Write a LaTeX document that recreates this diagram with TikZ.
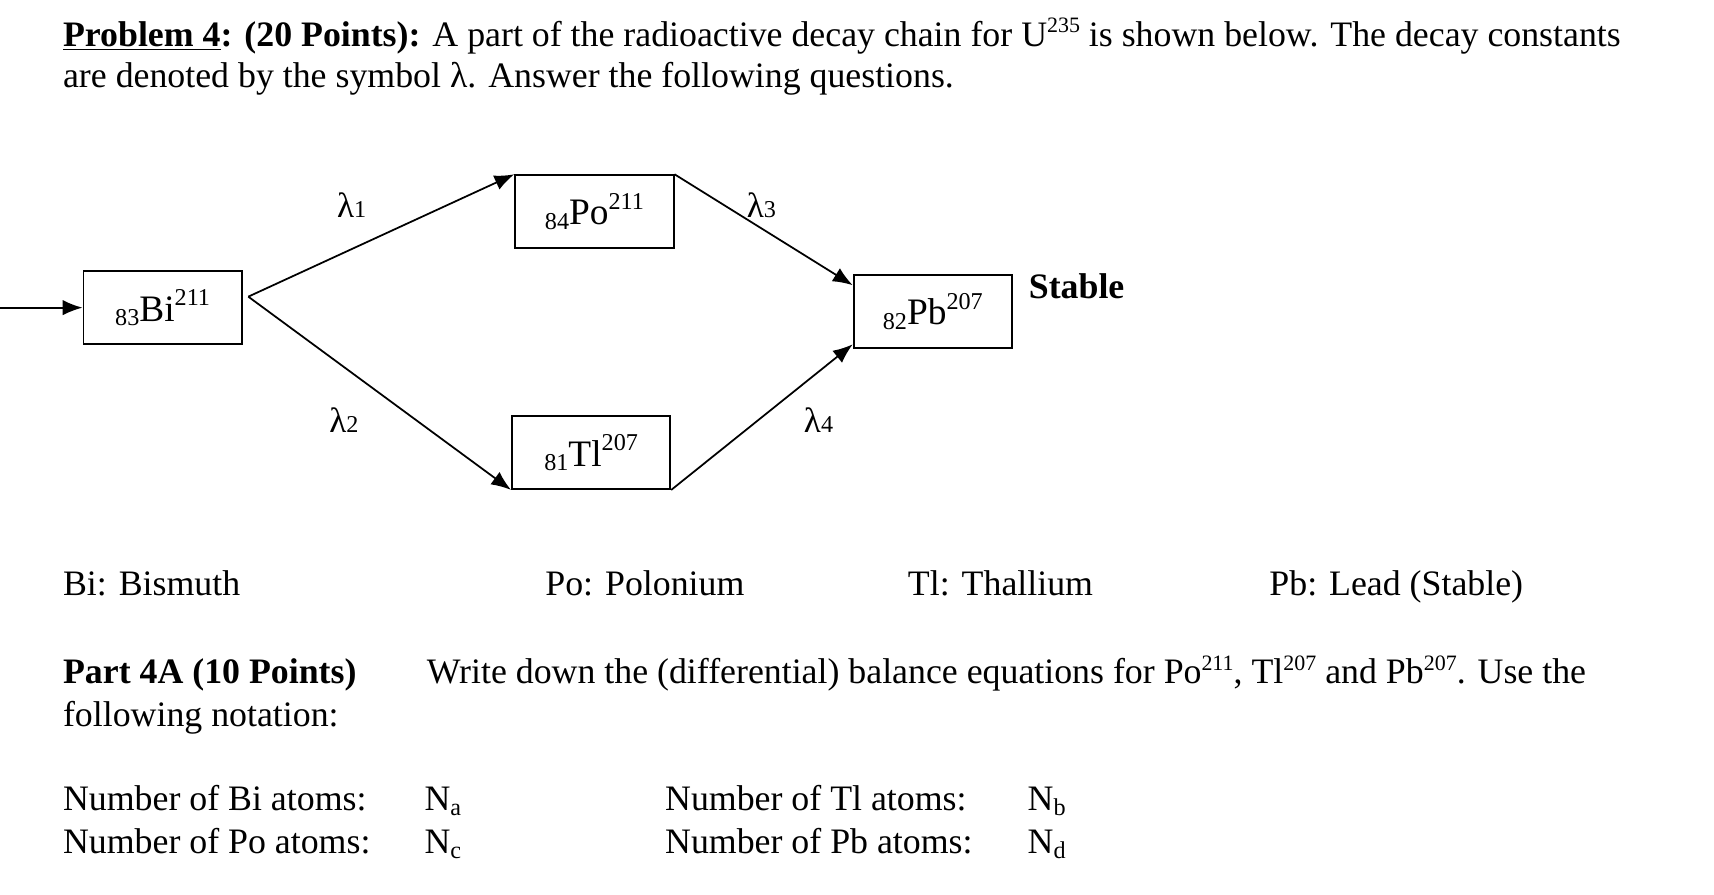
\documentclass[tikz,border=0pt]{standalone}
\usepackage{fontspec}
\usetikzlibrary{arrows.meta}
\setmainfont{Liberation Serif}
\newcommand{\sm}[1]{{\fontsize{11}{11}\selectfont #1}}
\newcommand{\up}[1]{\raisebox{7pt}{\fontsize{11}{11}\selectfont #1}}
\newcommand{\tup}[1]{\raisebox{6pt}{\fontsize{10}{10}\selectfont #1}}
\newcommand{\dn}[1]{\raisebox{-2pt}{\fontsize{11}{11}\selectfont #1}}
\begin{document}
\begin{tikzpicture}[x=0.5pt,y=-0.5pt,
  txt/.style={anchor=base west,inner sep=0pt,font=\fontsize{16.3}{19}\selectfont},
  box/.style={draw,line width=0.9pt,minimum width=72pt,minimum height=33pt,inner sep=0pt,font=\fontsize{17}{19}\selectfont},
  lam/.style={inner sep=0pt,font=\fontsize{16}{19}\selectfont},
  arr/.style={-{Latex[length=9pt,width=7pt]},line width=0.8pt}]
\useasboundingbox (0,0) rectangle (1560,814);
\node[txt] (t1) at (57,42) {\underline{\textbf{Problem 4}}\textbf{: (20 Points):} A part of the radioactive decay chain for U\tup{235} is shown below. The decay constants};
\node[txt] (t2) at (57,80) {are denoted by the symbol λ. Answer the following questions.};
\node[box] (bi) at (148,280) {\dn{83}Bi\up{211}};
\node[box] (po) at (541,192.5) {\dn{84}Po\up{211}};
\node[box] (pb) at (849,283.5) {\dn{82}Pb\up{207}};
\node[box] (tl) at (538,412) {\dn{81}Tl\up{207}};
\coordinate (in) at (0,280);
\coordinate (v) at (226,270);
\draw[arr] (in) -- (bi.west);
\draw[arr] (v) -- (po.north west);
\draw[arr] (v) -- (tl.south west);
\draw[arr] (po.north east) -- ([yshift=-5pt]pb.north west);
\draw[arr] (tl.south east) -- ([yshift=2pt]pb.south west);
\node[lam] (l1) at (320,187) {λ\sm{1}};
\node[lam] (l2) at (313,382) {λ\sm{2}};
\node[lam] (l3) at (693,187) {λ\sm{3}};
\node[lam] (l4) at (745,382) {λ\sm{4}};
\node[txt,font=\fontsize{16.3}{19}\selectfont\bfseries] (st) at (936,272) {Stable};
\node[txt] (a1) at (57,542) {Bi: Bismuth};
\node[txt] (a2) at (496,542) {Po: Polonium};
\node[txt] (a3) at (826,542) {Tl: Thallium};
\node[txt] (a4) at (1155,542) {Pb: Lead (Stable)};
\node[txt] (p1) at (57,622) {\textbf{Part 4A (10 Points)}\hspace{32pt}Write down the (differential) balance equations for Po\tup{211}, Tl\tup{207} and Pb\tup{207}. Use the};
\node[txt] (p2) at (57,661) {following notation:};
\node[txt] (n1) at (57,738) {Number of Bi atoms:};
\node[txt] (n2) at (57,777) {Number of Po atoms:};
\node[txt] (n3) at (386,738) {N\dn{a}};
\node[txt] (n4) at (386,777) {N\dn{c}};
\node[txt] (n5) at (605,738) {Number of Tl atoms:};
\node[txt] (n6) at (605,777) {Number of Pb atoms:};
\node[txt] (n7) at (935,738) {N\dn{b}};
\node[txt] (n8) at (935,777) {N\dn{d}};
\end{tikzpicture}
\end{document}
